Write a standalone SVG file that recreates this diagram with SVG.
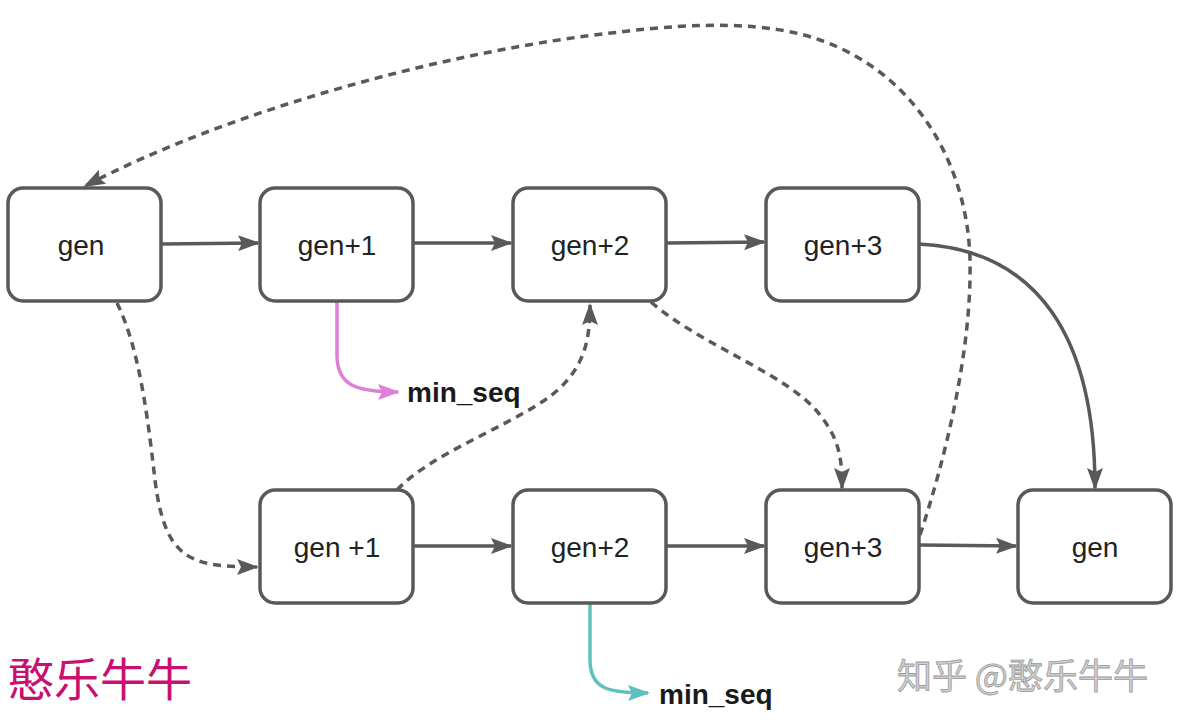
<svg xmlns="http://www.w3.org/2000/svg" width="1180" height="725" viewBox="0 0 1180 725">
<defs>
<style>
.box{fill:#fff;stroke:#595959;stroke-width:3.5}
.lbl{font-family:"Liberation Sans",Arial,sans-serif;font-size:28px;fill:#222;text-anchor:middle;dominant-baseline:central}
.c{fill:none;stroke:#595959;stroke-width:3.5}
.d{fill:none;stroke:#595959;stroke-width:3.5;stroke-dasharray:8 6}
.ms{font-family:"Liberation Sans",Arial,sans-serif;font-size:28px;font-weight:bold;fill:#1a1a1a}
</style>
<marker id="ah" markerUnits="userSpaceOnUse" markerWidth="22" markerHeight="16" refX="20" refY="8" orient="auto"><path d="M0,0 L22,8 L0,16 L4,8 z" fill="#595959"/></marker>
<marker id="ahp" markerUnits="userSpaceOnUse" markerWidth="22" markerHeight="16" refX="20" refY="8" orient="auto"><path d="M0,0 L22,8 L0,16 L4,8 z" fill="#e07fd8"/></marker>
<marker id="aht" markerUnits="userSpaceOnUse" markerWidth="22" markerHeight="16" refX="20" refY="8" orient="auto"><path d="M0,0 L22,8 L0,16 L4,8 z" fill="#5fc0c0"/></marker>
</defs>
<rect width="1180" height="725" fill="#fff"/>
<g id="connectors">
<path class="c" d="M162,244 L258,243" marker-end="url(#ah)"/>
<path class="c" d="M414,243 L511,243" marker-end="url(#ah)"/>
<path class="c" d="M667,243 L764,242" marker-end="url(#ah)"/>
<path class="c" d="M919,244 C1040,250 1095,340 1095,488" marker-end="url(#ah)"/>
<path class="c" d="M414,546 L511,546" marker-end="url(#ah)"/>
<path class="c" d="M667,546 L764,546" marker-end="url(#ah)"/>
<path class="c" d="M920,545 L1016,546" marker-end="url(#ah)"/>
<path fill="none" stroke="#e07fd8" stroke-width="3.5" d="M337,302 L337,355 C337,385 355,392 398,392" marker-end="url(#ahp)"/>
<path fill="none" stroke="#5fc0c0" stroke-width="3.5" d="M590,604 L590,660 C590,690 610,693 648,693" marker-end="url(#aht)"/>
<path class="d" d="M117,303 C140,350 148,420 155,480 C165,560 190,567 257,567" marker-end="url(#ah)"/>
<path class="d" d="M397,490 C430,455 500,430 545,400 C585,372 590,340 590,305" marker-end="url(#ah)"/>
<path class="d" d="M651,302 C700,345 790,375 820,415 C840,440 842,460 842,488" marker-end="url(#ah)"/>
<path class="d" d="M920,535 C945,460 972,350 970,260 C968,170 920,75 820,40 C770,22 700,22 620,32 C450,50 230,110 85,186" marker-end="url(#ah)"/>
</g>
<g id="n-gen-top"><rect class="box" x="8" y="188" width="153" height="113" rx="15"/><text class="lbl" x="81" y="245">gen</text></g>
<g id="n-gen1-top"><rect class="box" x="260" y="188" width="153" height="113" rx="15"/><text class="lbl" x="337" y="245">gen+1</text></g>
<g id="n-gen2-top"><rect class="box" x="513" y="188" width="153" height="113" rx="15"/><text class="lbl" x="590" y="245">gen+2</text></g>
<g id="n-gen3-top"><rect class="box" x="766" y="188" width="153" height="113" rx="15"/><text class="lbl" x="843" y="245">gen+3</text></g>
<g id="n-gen1-bot"><rect class="box" x="260" y="490" width="153" height="113" rx="15"/><text class="lbl" x="337" y="547">gen +1</text></g>
<g id="n-gen2-bot"><rect class="box" x="513" y="490" width="153" height="113" rx="15"/><text class="lbl" x="590" y="547">gen+2</text></g>
<g id="n-gen3-bot"><rect class="box" x="766" y="490" width="153" height="113" rx="15"/><text class="lbl" x="843" y="547">gen+3</text></g>
<g id="n-gen-bot"><rect class="box" x="1018" y="490" width="153" height="113" rx="15"/><text class="lbl" x="1095" y="547">gen</text></g>
<g id="labels">
<text class="ms" x="407" y="402">min_seq</text>
<text class="ms" x="659" y="704">min_seq</text>
<text x="8" y="696" font-family="'Noto Sans CJK SC',sans-serif" font-size="46" fill="#c8106e">憨乐牛牛</text>
<text x="897" y="689" font-family="'Noto Sans CJK SC',sans-serif" font-size="35" fill="#d0d0d0" stroke="#9a9a9a" stroke-width="0.8">知乎 @憨乐牛牛</text>
</g>
</svg>
